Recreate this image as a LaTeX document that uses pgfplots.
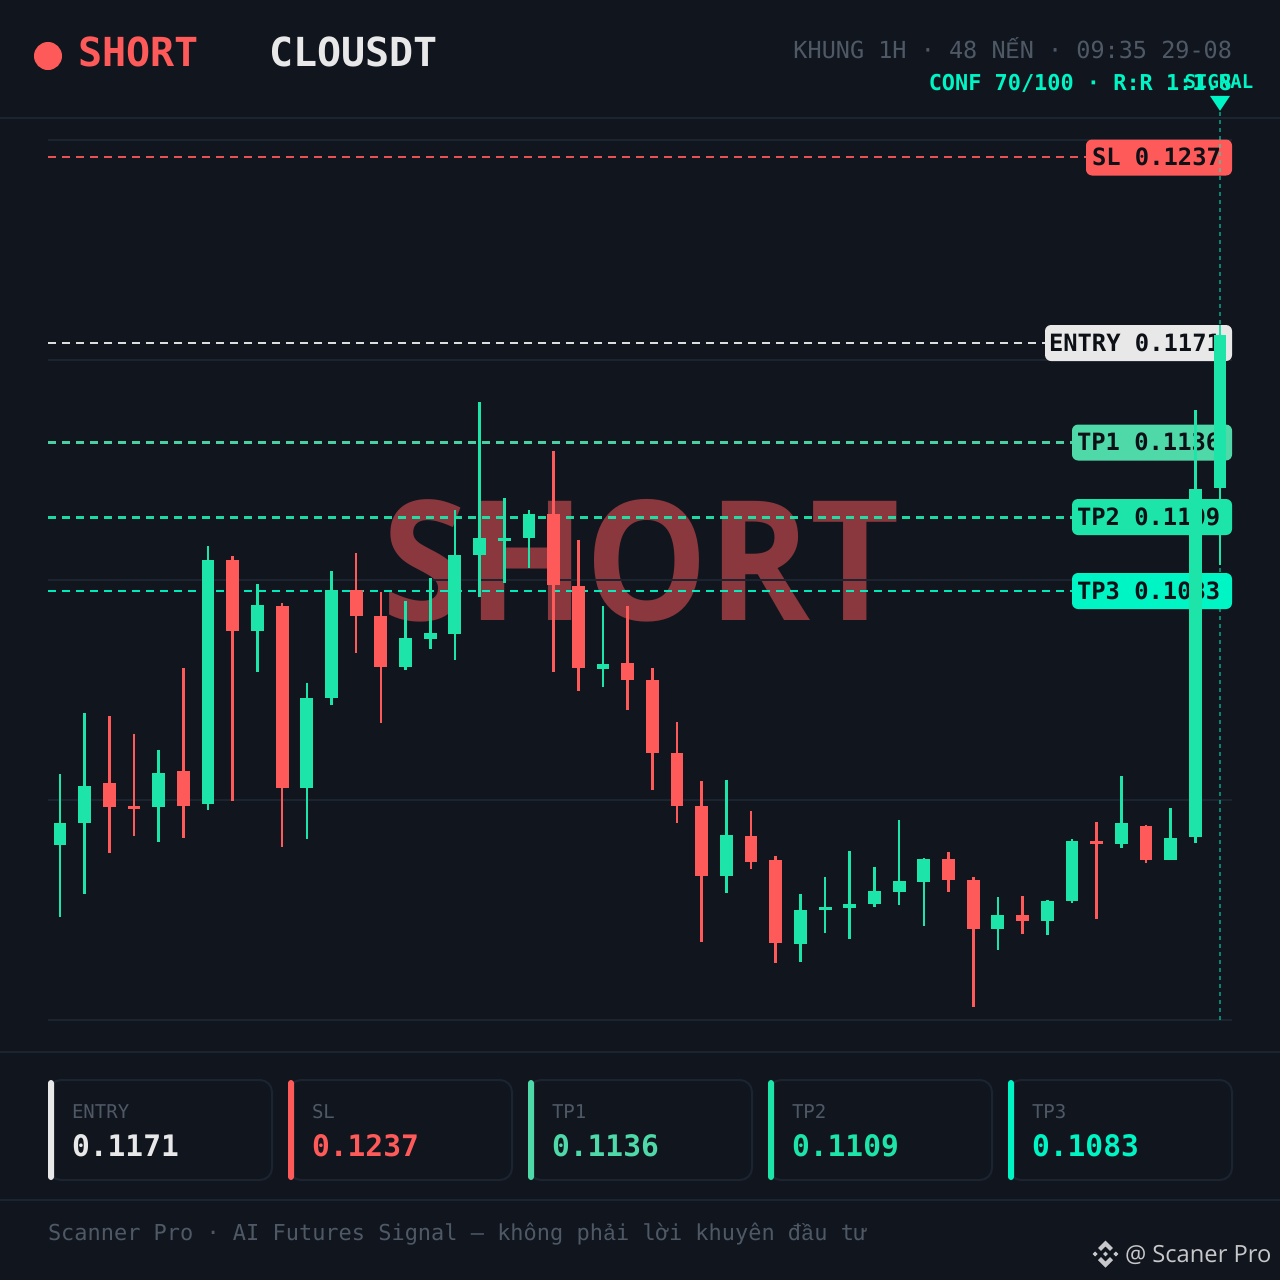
\documentclass[border=0pt]{standalone}
\usepackage{fontspec}
\usepackage{pgfplots}
\pgfplotsset{compat=1.18}
\setmainfont{DejaVu Sans Mono}
\newfontfamily\mono{DejaVu Sans Mono}
\newfontfamily\lib{Liberation Mono}
\newfontfamily\wmfont{Open Sans}
\newfontfamily\brandfont{Open Sans}
\newcommand{\fs}[1]{\fontsize{#1pt}{#1pt}\selectfont}
\definecolor{bg}{HTML}{10151E}
\definecolor{rule}{HTML}{1C2430}
\definecolor{muted}{HTML}{4F5966}
\definecolor{cred}{HTML}{FF5A5A}
\definecolor{cgreen}{HTML}{1DE5A9}
\definecolor{centry}{HTML}{E8E8E8}
\definecolor{ctpa}{HTML}{4FD8A8}
\definecolor{ctpc}{HTML}{00F5C4}
\definecolor{labtext}{HTML}{0D1117}
\definecolor{wm}{HTML}{8A373D}
\pgfplotsset{
  chart/.style={
    at={(48pt,-1020pt)}, anchor=south west, scale only axis,
    width=1184pt, height=880pt,
    xmin=-0.486, xmax=47.486, ymin=0.0930665, ymax=0.1243065,
    axis line style={draw=none}, major tick length=0pt,
    xtick=\empty, clip=false, unbounded coords=jump,
  },
  level/.style={line width=2.4pt, dash pattern=on 8pt off 6pt, line cap=butt, forget plot},
  wick/.style={line width=2.6pt, line cap=butt, forget plot},
  body/.style={line width=12.8pt, line cap=butt, forget plot},
}
\begin{document}
\begin{tikzpicture}[x=1pt,y=-1pt,every node/.style={inner sep=0pt,outer sep=0pt}]
\fill[bg] (0,0) rectangle (1280,1280);
% header
\fill[cred] (48,56) circle (14);
\node[anchor=base west,text=cred] at (78,66) {\mono\bfseries\fs{40}SHORT};
\node[anchor=base west,text=centry] at (269,66) {\mono\bfseries\fs{40}CLOUSDT};
\node[anchor=base east,text=muted] at (1232,58) {\mono\fs{23.5}KHUNG 1H · 48 N{\lib Ế}N · 09:35 29-08};
\node[anchor=base east,text=ctpc] at (1232,90) {\mono\bfseries\fs{21.9}CONF 70/100 · R:R 1:1.8};
\node[anchor=base,text=ctpc] at (1219,88) {\mono\bfseries\fs{19}SIGNAL};
\draw[rule,line width=2pt] (0,118)--(1280,118);
% watermark
\node[anchor=base west,text=wm,xscale=0.925,transform shape] at (382,620) {\wmfont\bfseries\fs{167}SHORT};
% grid and levels
\begin{axis}[chart,
  ytick={0.1243065,0.1164965,0.1086865,0.1008765,0.0930665}, yticklabels=\empty,
  ymajorgrids, grid style={rule,line width=2pt}]
\addplot[level,color=cred,opacity=.9] coordinates {(-0.486,0.1237)(42.0,0.1237)};
\addplot[level,color=centry,opacity=.95] coordinates {(-0.486,0.1171)(40.0,0.1171)};
\addplot[level,color=ctpa,opacity=.95] coordinates {(-0.486,0.11357)(41.0,0.11357)};
\addplot[level,color=cgreen,opacity=.95] coordinates {(-0.486,0.1109)(41.0,0.1109)};
\addplot[level,color=ctpc,opacity=.95] coordinates {(-0.486,0.1083)(41.0,0.1083)};
\end{axis}
% price tags
\fill[cred,rounded corners=6pt] (1086,139.5) rectangle (1232,175.5);
\node[anchor=base west,text=labtext] at (1092,165) {\mono\bfseries\fs{23.8}SL 0.1237};
\fill[centry,rounded corners=6pt] (1045,325) rectangle (1232,361);
\node[anchor=base west,text=labtext] at (1049,351) {\mono\bfseries\fs{23.8}ENTRY 0.1171};
\fill[ctpa,rounded corners=6pt] (1072,424.5) rectangle (1232,460.5);
\node[anchor=base west,text=labtext] at (1077,450.5) {\mono\bfseries\fs{23.8}TP1 0.1136};
\fill[cgreen,rounded corners=6pt] (1072,499) rectangle (1232,535);
\node[anchor=base west,text=labtext] at (1077,525) {\mono\bfseries\fs{23.8}TP2 0.1109};
\fill[ctpc,rounded corners=6pt] (1072,573) rectangle (1232,609);
\node[anchor=base west,text=labtext] at (1077,599) {\mono\bfseries\fs{23.8}TP3 0.1083};
% candles
\begin{axis}[chart, ytick=\empty]
\addplot[color=ctpc,opacity=.5,line width=2pt,dash pattern=on 4pt off 4pt,forget plot] coordinates {(47,0.12530)(47,0.0930665)};
\addplot[fill=ctpc,draw=none,forget plot] coordinates {(46.595,0.125874)(47.405,0.125874)(47,0.125342)} --cycle;
% green wicks
\addplot[wick,color=cgreen] coordinates {
(0,0.10180)(0,0.09673)(0,nan)
(1,0.10397)(1,0.09755)(1,nan)
(4,0.10266)(4,0.09937)(4,nan)
(6,0.10989)(6,0.10053)(6,nan)
(8,0.10854)(8,0.10543)(8,nan)
(10,0.10504)(10,0.09950)(10,nan)
(11,0.10900)(11,0.10424)(11,nan)
(14,0.10793)(14,0.10550)(14,nan)
(15,0.10875)(15,0.10624)(15,nan)
(16,0.11117)(16,0.10586)(16,nan)
(17,0.11501)(17,0.10809)(17,nan)
(18,0.11160)(18,0.10859)(18,nan)
(19,0.11117)(19,0.10910)(19,nan)
(22,0.10776)(22,0.10490)(22,nan)
(27,0.10160)(27,0.09758)(27,nan)
(30,0.09755)(30,0.09514)(30,nan)
(31,0.09814)(31,0.09617)(31,nan)
(32,0.09906)(32,0.09595)(32,nan)
(33,0.09851)(33,0.09707)(33,nan)
(34,0.10016)(34,0.09716)(34,nan)
(35,0.09881)(35,0.09641)(35,nan)
(38,0.09742)(38,0.09556)(38,nan)
(40,0.09733)(40,0.09608)(40,nan)
(41,0.09948)(41,0.09723)(41,nan)
(43,0.10173)(43,0.09917)(43,nan)
(45,0.10059)(45,0.09875)(45,nan)
(46,0.11472)(46,0.09935)(46,nan)
(47,0.11774)(47,0.10922)
};
% green bodies
\addplot[body,color=cgreen] coordinates {
(0,0.10005)(0,0.09927)(0,nan)
(1,0.10137)(1,0.10005)(1,nan)
(4,0.10183)(4,0.10063)(4,nan)
(6,0.10940)(6,0.10074)(6,nan)
(8,0.10781)(8,0.10689)(8,nan)
(10,0.10451)(10,0.10131)(10,nan)
(11,0.10833)(11,0.10450)(11,nan)
(14,0.10663)(14,0.10559)(14,nan)
(15,0.10679)(15,0.10660)(15,nan)
(16,0.10957)(16,0.10678)(16,nan)
(17,0.11019)(17,0.10959)(17,nan)
(18,0.11019)(18,0.11008)(18,nan)
(19,0.11104)(19,0.11019)(19,nan)
(22,0.10569)(22,0.10553)(22,nan)
(27,0.09965)(27,0.09817)(27,nan)
(30,0.09696)(30,0.09578)(30,nan)
(31,0.09708)(31,0.09697)(31,nan)
(32,0.09717)(32,0.09704)(32,nan)
(33,0.09764)(33,0.09720)(33,nan)
(34,0.09799)(34,0.09760)(34,nan)
(35,0.09879)(35,0.09797)(35,nan)
(38,0.09679)(38,0.09629)(38,nan)
(40,0.09729)(40,0.09658)(40,nan)
(41,0.09942)(41,0.09729)(41,nan)
(43,0.10005)(43,0.09931)(43,nan)
(45,0.09953)(45,0.09875)(45,nan)
(46,0.11193)(46,0.09955)(46,nan)
(47,0.11738)(47,0.11196)
};
% red wicks
\addplot[wick,color=cred] coordinates {
(2,0.10386)(2,0.09901)(2,nan)
(3,0.10323)(3,0.09961)(3,nan)
(5,0.10556)(5,0.09954)(5,nan)
(7,0.10954)(7,0.10084)(7,nan)
(9,0.10787)(9,0.09922)(9,nan)
(12,0.10964)(12,0.10611)(12,nan)
(13,0.10827)(13,0.10361)(13,nan)
(20,0.11326)(20,0.10543)(20,nan)
(21,0.11012)(21,0.10476)(21,nan)
(23,0.10776)(23,0.10407)(23,nan)
(24,0.10556)(24,0.10123)(24,nan)
(25,0.10366)(25,0.10006)(25,nan)
(26,0.10154)(26,0.09582)(26,nan)
(28,0.10048)(28,0.09844)(28,nan)
(29,0.09890)(29,0.09509)(29,nan)
(36,0.09902)(36,0.09760)(36,nan)
(37,0.09815)(37,0.09354)(37,nan)
(39,0.09746)(39,0.09611)(39,nan)
(42,0.10011)(42,0.09666)(42,nan)
(44,0.10000)(44,0.09864)
};
% red bodies
\addplot[body,color=cred] coordinates {
(2,0.10147)(2,0.10062)(2,nan)
(3,0.10066)(3,0.10057)(3,nan)
(5,0.10190)(5,0.10067)(5,nan)
(7,0.10941)(7,0.10688)(7,nan)
(9,0.10776)(9,0.10131)(9,nan)
(12,0.10833)(12,0.10742)(12,nan)
(13,0.10740)(13,0.10561)(13,nan)
(20,0.11104)(20,0.10851)(20,nan)
(21,0.10847)(21,0.10557)(21,nan)
(23,0.10573)(23,0.10514)(23,nan)
(24,0.10514)(24,0.10256)(24,nan)
(25,0.10255)(25,0.10067)(25,nan)
(26,0.10067)(26,0.09819)(26,nan)
(28,0.09961)(28,0.09868)(28,nan)
(29,0.09874)(29,0.09581)(29,nan)
(36,0.09879)(36,0.09804)(36,nan)
(37,0.09804)(37,0.09630)(37,nan)
(39,0.09678)(39,0.09659)(39,nan)
(42,0.09942)(42,0.09930)(42,nan)
(44,0.09996)(44,0.09875)
};
\end{axis}
% bottom
\draw[rule,line width=2pt] (0,1052)--(1280,1052);
\draw[rule,line width=2pt] (0,1200)--(1280,1200);
\foreach \cx/\cc/\lab/\val in {48/centry/ENTRY/0.1171,288/cred/SL/0.1237,528/ctpa/TP1/0.1136,768/cgreen/TP2/0.1109,1008/ctpc/TP3/0.1083}{
  \draw[rule,line width=2pt,rounded corners=12pt] (\cx,1080)++(1,0) rectangle ++(223,100);
  \fill[\cc,rounded corners=3pt] (\cx,1080) rectangle ++(6,100);
  \node[anchor=base west,text=muted] at (\cx+24,1118) {\mono\fs{19}\lab};
  \node[anchor=base west,text=\cc] at (\cx+24,1156) {\mono\bfseries\fs{29.6}\val};
}
\node[anchor=base west,text=muted] at (48,1240) {\mono\fs{21.95}Scanner Pro · AI Futures Signal — không ph{\lib ả}i lời khuyên đ{\lib ầ}u tư};
% brand
\begin{scope}[shift={(1105.5,1254)},x=13.5pt,y=-13.5pt]
\fill[centry!85!bg] (0,-.18)--(.18,0)--(0,.18)--(-.18,0)--cycle;
\fill[centry!85!bg] (-.77,-.18)--(-.59,0)--(-.77,.18)--(-.95,0)--cycle;
\fill[centry!85!bg] (.77,-.18)--(.95,0)--(.77,.18)--(.59,0)--cycle;
\fill[centry!85!bg] (0,-1)--(.55,-.45)--(.33,-.23)--(0,-.56)--(-.33,-.23)--(-.55,-.45)--cycle;
\fill[centry!85!bg] (0,1)--(.55,.45)--(.33,.23)--(0,.56)--(-.33,.23)--(-.55,.45)--cycle;
\end{scope}
\node[anchor=base west,text=centry!85!bg] at (1125,1262) {\brandfont\fs{23.7}@ Scaner Pro};
\pgfresetboundingbox
\useasboundingbox (0,0) rectangle (1280,1280);
\end{tikzpicture}
\end{document}
